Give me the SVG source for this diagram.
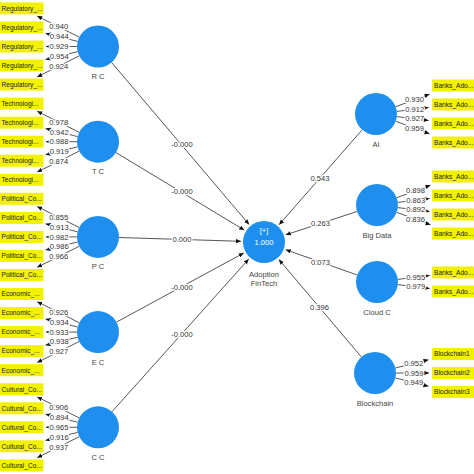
<svg xmlns="http://www.w3.org/2000/svg" width="474" height="474" viewBox="0 0 474 474">
<defs>
<marker id="arr" markerUnits="userSpaceOnUse" markerWidth="6" markerHeight="5" refX="5" refY="2.2" orient="auto"><path d="M0,0 L5,2.2 L0,4.4 z" fill="#111"/></marker>
<style>
.bg{fill:#fff}
.c{fill:#1F8FEF}
.ln{stroke:#444;stroke-width:0.9;fill:none;marker-end:url(#arr)}
.box{fill:#F2F200}
.bt{font-family:"Liberation Sans",Arial,sans-serif;font-size:6.6px;fill:#222}
.lab{font-family:"Liberation Sans",Arial,sans-serif;font-size:7.6px;fill:#444;text-anchor:middle}
.num{font-family:"Liberation Sans",Arial,sans-serif;font-size:7.6px;fill:#333;text-anchor:middle;stroke:#fff;stroke-width:2.5;paint-order:stroke}
.in{font-family:"Liberation Sans",Arial,sans-serif;font-size:7.5px;fill:#fff;text-anchor:middle}
</style>
</defs>
<rect class="bg" x="0" y="0" width="474" height="474"/>

<g id="connectors">
  <path class="ln" d="M111.6,62.5 L249.1,224.5"/>
  <path class="ln" d="M116,152.6 L244.3,230.1"/>
  <path class="ln" d="M119,237.5 L241,241.3"/>
  <path class="ln" d="M116.5,322.1 L243.8,253"/>
  <path class="ln" d="M112,411.7 L248.7,259.1"/>
  <path class="ln" d="M362.2,129.8 L279.1,224.7"/>
  <path class="ln" d="M357,211.5 L285.8,234.8"/>
  <path class="ln" d="M357.2,275 L285.7,249.7"/>
  <path class="ln" d="M361.4,357 L278.9,259.5"/>
  <text class="num" x="182" y="146.8">-0.000</text>
  <text class="num" x="182" y="194.4">-0.000</text>
  <text class="num" x="182" y="242">0.000</text>
  <text class="num" x="182" y="289.5">-0.000</text>
  <text class="num" x="182" y="337.2">-0.000</text>
  <text class="num" x="320" y="180.5">0.543</text>
  <text class="num" x="320.5" y="226">0.263</text>
  <text class="num" x="320.5" y="264.5">0.073</text>
  <text class="num" x="319.5" y="310">0.396</text>

  <g transform="translate(98,46.5)">
    <path class="ln" d="M-18.8,-9.4 L-60.8,-30.4"/><path class="ln" d="M-20.4,-5.1 L-52.4,-13.1"/><path class="ln" d="M-21,0 L-52,0"/><path class="ln" d="M-20.4,5.1 L-52.4,13.1"/><path class="ln" d="M-18.8,9.4 L-60.8,30.4"/>
    <text class="num" x="-39.3" y="-17.1">0.940</text><text class="num" x="-38.8" y="-7.1">0.944</text><text class="num" x="-39" y="2.6">0.929</text><text class="num" x="-38.8" y="12.3">0.954</text><text class="num" x="-39.3" y="22.3">0.924</text>
  </g>
  <g transform="translate(98,141.7)">
    <path class="ln" d="M-18.8,-9.4 L-60.8,-30.4"/><path class="ln" d="M-20.4,-5.1 L-52.4,-13.1"/><path class="ln" d="M-21,0 L-52,0"/><path class="ln" d="M-20.4,5.1 L-52.4,13.1"/><path class="ln" d="M-18.8,9.4 L-60.8,30.4"/>
    <text class="num" x="-39.3" y="-17.1">0.978</text><text class="num" x="-38.8" y="-7.1">0.942</text><text class="num" x="-39" y="2.6">0.988</text><text class="num" x="-38.8" y="12.3">0.919</text><text class="num" x="-39.3" y="22.3">0.874</text>
  </g>
  <g transform="translate(98,236.9)">
    <path class="ln" d="M-18.8,-9.4 L-60.8,-30.4"/><path class="ln" d="M-20.4,-5.1 L-52.4,-13.1"/><path class="ln" d="M-21,0 L-52,0"/><path class="ln" d="M-20.4,5.1 L-52.4,13.1"/><path class="ln" d="M-18.8,9.4 L-60.8,30.4"/>
    <text class="num" x="-39.3" y="-17.1">0.855</text><text class="num" x="-38.8" y="-7.1">0.913</text><text class="num" x="-39" y="2.6">0.982</text><text class="num" x="-38.8" y="12.3">0.986</text><text class="num" x="-39.3" y="22.3">0.966</text>
  </g>
  <g transform="translate(98,332.1)">
    <path class="ln" d="M-18.8,-9.4 L-60.8,-30.4"/><path class="ln" d="M-20.4,-5.1 L-52.4,-13.1"/><path class="ln" d="M-21,0 L-52,0"/><path class="ln" d="M-20.4,5.1 L-52.4,13.1"/><path class="ln" d="M-18.8,9.4 L-60.8,30.4"/>
    <text class="num" x="-39.3" y="-17.1">0.926</text><text class="num" x="-38.8" y="-7.1">0.934</text><text class="num" x="-39" y="2.6">0.933</text><text class="num" x="-38.8" y="12.3">0.938</text><text class="num" x="-39.3" y="22.3">0.927</text>
  </g>
  <g transform="translate(98,427.3)">
    <path class="ln" d="M-18.8,-9.4 L-60.8,-30.4"/><path class="ln" d="M-20.4,-5.1 L-52.4,-13.1"/><path class="ln" d="M-21,0 L-52,0"/><path class="ln" d="M-20.4,5.1 L-52.4,13.1"/><path class="ln" d="M-18.8,9.4 L-60.8,30.4"/>
    <text class="num" x="-39.3" y="-17.1">0.906</text><text class="num" x="-38.8" y="-7.1">0.894</text><text class="num" x="-39" y="2.6">0.965</text><text class="num" x="-38.8" y="12.3">0.916</text><text class="num" x="-39.3" y="22.3">0.937</text>
  </g>

  <g transform="translate(376,114)">
    <path class="ln" d="M19.7,-7.3 L53.5,-19.8"/><path class="ln" d="M20.8,-2.6 L52.6,-6.5"/><path class="ln" d="M20.8,2.6 L52.6,6.5"/><path class="ln" d="M19.7,7.3 L53.5,19.8"/>
    <text class="num" x="38.5" y="-11.6">0.930</text><text class="num" x="38.7" y="-2.2">0.912</text><text class="num" x="38.7" y="7.4">0.927</text><text class="num" x="38.5" y="16.8">0.959</text>
  </g>
  <g transform="translate(377,205)">
    <path class="ln" d="M19.7,-7.3 L53.5,-19.8"/><path class="ln" d="M20.8,-2.6 L52.6,-6.5"/><path class="ln" d="M20.8,2.6 L52.6,6.5"/><path class="ln" d="M19.7,7.3 L53.5,19.8"/>
    <text class="num" x="38.5" y="-11.6">0.898</text><text class="num" x="38.7" y="-2.2">0.863</text><text class="num" x="38.7" y="7.4">0.892</text><text class="num" x="38.5" y="16.8">0.836</text>
  </g>
  <g transform="translate(377,282)">
    <path class="ln" d="M20.8,-2.6 L52.6,-6.5"/><path class="ln" d="M20.8,2.6 L52.6,6.5"/>
    <text class="num" x="38.7" y="-2.2">0.955</text><text class="num" x="38.7" y="7.4">0.979</text>
  </g>
  <g transform="translate(375,373)">
    <path class="ln" d="M20.4,-5 L53.4,-13.2"/><path class="ln" d="M21,0 L54,0"/><path class="ln" d="M20.4,5 L53.4,13.2"/>
    <text class="num" x="38.8" y="-7">0.952</text><text class="num" x="39" y="2.6">0.959</text><text class="num" x="38.8" y="12.2">0.949</text>
  </g>
</g>

<g id="adoption">
  <circle class="c" cx="264" cy="242" r="21"/>
  <text class="in" x="264" y="232.5">[+]</text>
  <text class="in" x="264" y="244.5">1.000</text>
  <text class="lab" x="264" y="276.5">Adoption</text>
  <text class="lab" x="264" y="286">FinTech</text>
</g>

<g id="rc">
  <circle class="c" cx="98" cy="46.5" r="21"/>
  <text class="lab" x="98" y="79">R C</text>
  <rect class="box" x="0" y="2.4" width="43.5" height="12"/><text class="bt" x="1.5" y="10.7">Regulatory_...</text>
  <rect class="box" x="0" y="21.5" width="43.5" height="12"/><text class="bt" x="1.5" y="29.8">Regulatory_...</text>
  <rect class="box" x="0" y="40.5" width="43.5" height="12"/><text class="bt" x="1.5" y="48.8">Regulatory_...</text>
  <rect class="box" x="0" y="59.5" width="43.5" height="12"/><text class="bt" x="1.5" y="67.8">Regulatory_...</text>
  <rect class="box" x="0" y="78.6" width="43.5" height="12"/><text class="bt" x="1.5" y="86.9">Regulatory_...</text>
</g>
<g id="tc">
  <circle class="c" cx="98" cy="141.7" r="21"/>
  <text class="lab" x="98" y="174.2">T C</text>
  <rect class="box" x="0" y="97.6" width="43.5" height="12"/><text class="bt" x="1.5" y="105.9">Technologi...</text>
  <rect class="box" x="0" y="116.7" width="43.5" height="12"/><text class="bt" x="1.5" y="125">Technologi...</text>
  <rect class="box" x="0" y="135.7" width="43.5" height="12"/><text class="bt" x="1.5" y="144">Technologi...</text>
  <rect class="box" x="0" y="154.7" width="43.5" height="12"/><text class="bt" x="1.5" y="163">Technologi...</text>
  <rect class="box" x="0" y="173.8" width="43.5" height="12"/><text class="bt" x="1.5" y="182.1">Technologi...</text>
</g>
<g id="pc">
  <circle class="c" cx="98" cy="236.9" r="21"/>
  <text class="lab" x="98" y="269.4">P C</text>
  <rect class="box" x="0" y="192.8" width="43.5" height="12"/><text class="bt" x="1.5" y="201.1">Political_Co...</text>
  <rect class="box" x="0" y="211.9" width="43.5" height="12"/><text class="bt" x="1.5" y="220.2">Political_Co...</text>
  <rect class="box" x="0" y="230.9" width="43.5" height="12"/><text class="bt" x="1.5" y="239.2">Political_Co...</text>
  <rect class="box" x="0" y="249.9" width="43.5" height="12"/><text class="bt" x="1.5" y="258.2">Political_Co...</text>
  <rect class="box" x="0" y="269" width="43.5" height="12"/><text class="bt" x="1.5" y="277.3">Political_Co...</text>
</g>
<g id="ec">
  <circle class="c" cx="98" cy="332.1" r="21"/>
  <text class="lab" x="98" y="364.6">E C</text>
  <rect class="box" x="0" y="288" width="43.5" height="12"/><text class="bt" x="1.5" y="296.3">Economic_...</text>
  <rect class="box" x="0" y="307.1" width="43.5" height="12"/><text class="bt" x="1.5" y="315.4">Economic_...</text>
  <rect class="box" x="0" y="326.1" width="43.5" height="12"/><text class="bt" x="1.5" y="334.4">Economic_...</text>
  <rect class="box" x="0" y="345.1" width="43.5" height="12"/><text class="bt" x="1.5" y="353.4">Economic_...</text>
  <rect class="box" x="0" y="364.2" width="43.5" height="12"/><text class="bt" x="1.5" y="372.5">Economic_...</text>
</g>
<g id="cc">
  <circle class="c" cx="98" cy="427.3" r="21"/>
  <text class="lab" x="98" y="459.8">C C</text>
  <rect class="box" x="0" y="383.2" width="43.5" height="12"/><text class="bt" x="1.5" y="391.5">Cultural_Co...</text>
  <rect class="box" x="0" y="402.3" width="43.5" height="12"/><text class="bt" x="1.5" y="410.6">Cultural_Co...</text>
  <rect class="box" x="0" y="421.3" width="43.5" height="12"/><text class="bt" x="1.5" y="429.6">Cultural_Co...</text>
  <rect class="box" x="0" y="440.3" width="43.5" height="12"/><text class="bt" x="1.5" y="448.6">Cultural_Co...</text>
  <rect class="box" x="0" y="459.4" width="43.5" height="12"/><text class="bt" x="1.5" y="467.7">Cultural_Co...</text>
</g>

<g id="ai">
  <circle class="c" cx="376" cy="114" r="21"/>
  <text class="lab" x="376" y="146.5">AI</text>
  <rect class="box" x="432" y="79.5" width="44" height="12"/><text class="bt" x="434" y="87.8">Banks_Ado...</text>
  <rect class="box" x="432" y="98.5" width="44" height="12"/><text class="bt" x="434" y="106.8">Banks_Ado...</text>
  <rect class="box" x="432" y="117.5" width="44" height="12"/><text class="bt" x="434" y="125.8">Banks_Ado...</text>
  <rect class="box" x="432" y="136.5" width="44" height="12"/><text class="bt" x="434" y="144.8">Banks_Ado...</text>
</g>
<g id="bigdata">
  <circle class="c" cx="377" cy="205" r="21"/>
  <text class="lab" x="377" y="237.5">Big Data</text>
  <rect class="box" x="432" y="170.5" width="44" height="12"/><text class="bt" x="434" y="178.8">Banks_Ado...</text>
  <rect class="box" x="432" y="189.5" width="44" height="12"/><text class="bt" x="434" y="197.8">Banks_Ado...</text>
  <rect class="box" x="432" y="208.5" width="44" height="12"/><text class="bt" x="434" y="216.8">Banks_Ado...</text>
  <rect class="box" x="432" y="227.5" width="44" height="12"/><text class="bt" x="434" y="235.8">Banks_Ado...</text>
</g>
<g id="cloudc">
  <circle class="c" cx="377" cy="282" r="21"/>
  <text class="lab" x="377" y="314.5">Cloud C</text>
  <rect class="box" x="432" y="266.5" width="44" height="12"/><text class="bt" x="434" y="274.8">Banks_Ado...</text>
  <rect class="box" x="432" y="285.5" width="44" height="12"/><text class="bt" x="434" y="293.8">Banks_Ado...</text>
</g>
<g id="blockchain">
  <circle class="c" cx="375" cy="373" r="21"/>
  <text class="lab" x="375" y="405.5">Blockchain</text>
  <rect class="box" x="432" y="348" width="44" height="12"/><text class="bt" x="434" y="356.3">Blockchain1</text>
  <rect class="box" x="432" y="367" width="44" height="12"/><text class="bt" x="434" y="375.3">Blockchain2</text>
  <rect class="box" x="432" y="386" width="44" height="12"/><text class="bt" x="434" y="394.3">Blockchain3</text>
</g>
</svg>
